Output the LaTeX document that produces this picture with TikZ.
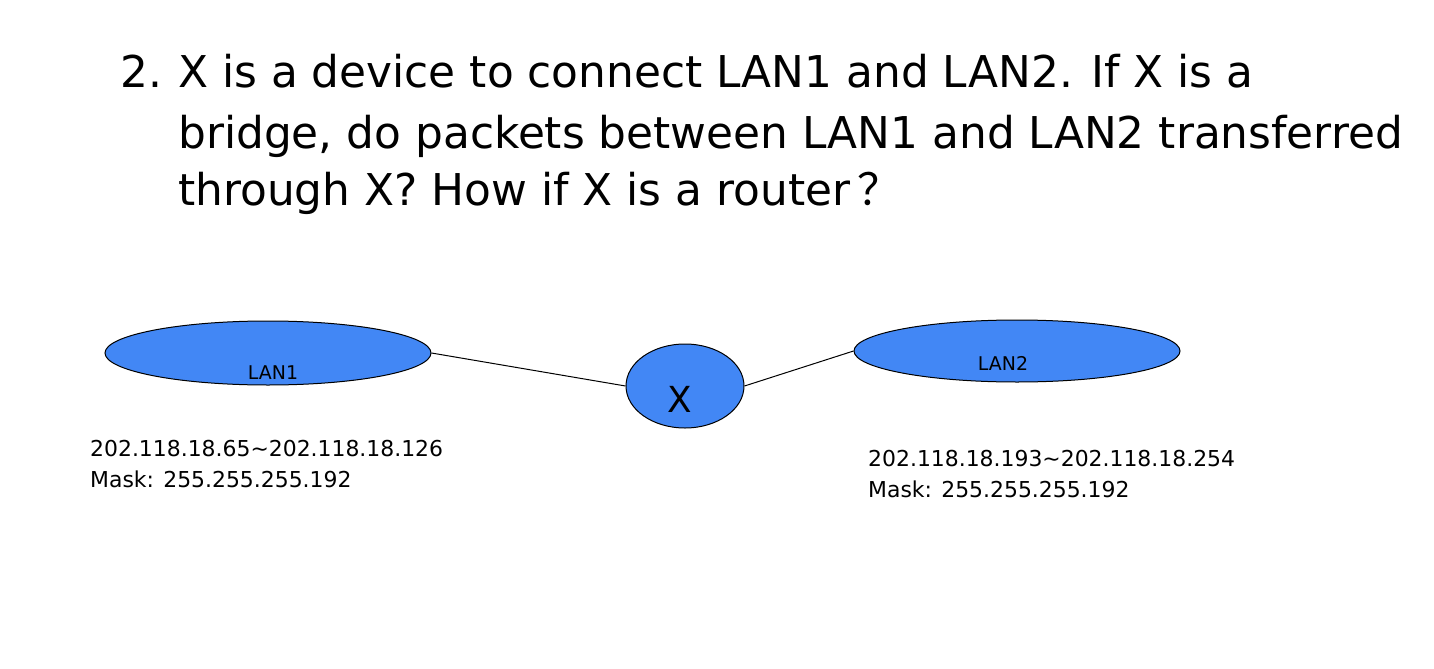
\documentclass[tikz,border=0pt]{standalone}
\usepackage{fontspec}
\usetikzlibrary{shapes.geometric}
\setmainfont{DejaVu Sans}
\newfontfamily\cjk{Noto Sans CJK SC}
\begin{document}
\begin{tikzpicture}[x=1bp,y=-1bp,
  lan/.style={ellipse,draw=black,fill=lanblue,line width=1bp,inner sep=0pt},
  ttl/.style={anchor=base west,inner sep=0pt,font=\fontsize{44}{50}\selectfont},
  addr/.style={anchor=base west,inner sep=0pt,align=left,font=\fontsize{22}{31}\selectfont}]
\definecolor{lanblue}{HTML}{4287F5}
\useasboundingbox (0,0) rectangle (1434,669);
\node[ttl] (t1) at (120,88) {2.};
\node[ttl] (t2) at (178,88) {X is a device to connect LAN1 and LAN2. If X is a};
\node[ttl] (t3) at (178,148) {bridge, do packets between LAN1 and LAN2 transferred};
\node[ttl] (t4) at (178,205) {through X? How if X is a router\,{\cjk ？}};
\node[lan,minimum width=326bp,minimum height=64bp] (l1) at (268,353) {};
\node[lan,minimum width=118bp,minimum height=84bp] (x) at (685,386) {};
\node[lan,minimum width=326bp,minimum height=62bp] (l2) at (1017,351) {};
\node[font=\fontsize{19}{22}\selectfont] (l1t) at (273,373) {LAN1};
\node[font=\fontsize{19}{22}\selectfont] (l2t) at (1003,363) {LAN2};
\node[font=\fontsize{36}{40}\selectfont] (xt) at (680,399) {X};
\draw[line width=1bp] (l1.east) -- (x.west);
\draw[line width=1bp] (x.east) -- (l2.west);
\node[addr] (a1) at (90,487) {202.118.18.65\textasciitilde202.118.18.126\\Mask: 255.255.255.192};
\node[addr] (a2) at (868,497) {202.118.18.193\textasciitilde202.118.18.254\\Mask: 255.255.255.192};
\end{tikzpicture}
\end{document}
